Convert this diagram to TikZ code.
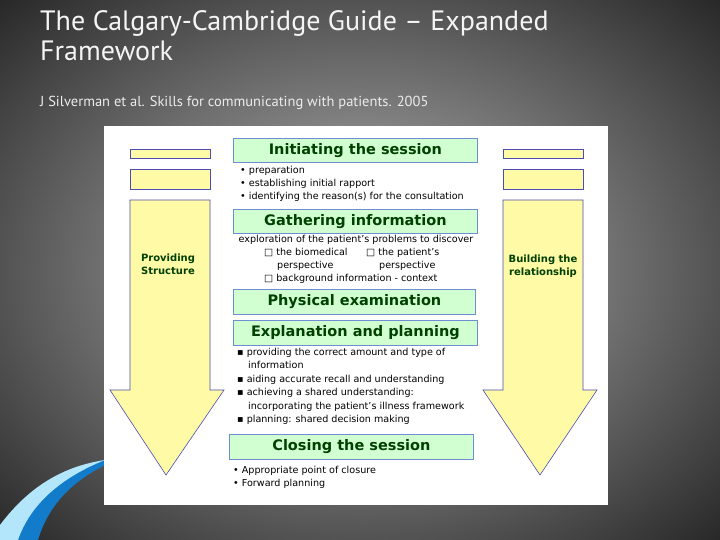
\documentclass[tikz,border=0pt]{standalone}
\usepackage{fontspec}
\setmainfont{DejaVu Sans}
\newfontfamily\titlefont{PT Sans}
\begin{document}
\begin{tikzpicture}[x=1pt,y=-1pt,
  ybox/.style={draw=gray!60!blue,fill=yellow!35,line width=0.6pt},
  gbox/.style={draw=cyan!40!blue!60,fill=green!18,line width=0.8pt,text=green!25!black,font=\bfseries\fontsize{14.5}{16}\selectfont},
  btxt/.style={anchor=north west,align=left,font=\fontsize{9.6}{13.2}\selectfont,inner sep=0pt},
  side/.style={font=\bfseries\fontsize{10}{13}\selectfont,align=center,text=green!25!black}]
\useasboundingbox (0,0) rectangle (720,540);
\fill[inner color=gray!55,outer color=black!90] (-200,-150) rectangle (920,690);
\fill[cyan!60!blue] (0,540) .. controls (40,480) and (80,462) .. (130,455) .. controls (80,472) and (50,500) .. (38,540) -- cycle;
\fill[cyan!30] (0,525) .. controls (30,485) and (65,466) .. (105,460) .. controls (60,478) and (30,505) .. (18,540) -- (0,540) -- cycle;
\node[anchor=north west,align=left,text=white!92!gray,font=\titlefont\fontsize{28}{30}\selectfont,inner sep=0pt] (title) at (40,10) {The Calgary-Cambridge Guide – Expanded\\Framework};
\node[anchor=north west,text=gray!15,font=\titlefont\fontsize{14.5}{16}\selectfont,inner sep=0pt] (sub) at (40,96) {J Silverman et al. Skills for communicating with patients. 2005};
\node[fill=white,minimum width=504,minimum height=379,anchor=north west,inner sep=0pt] (panel) at (104,126) {};
% left
\draw[ybox] (130,149) rectangle (210,158);
\draw[ybox] (130,169) rectangle (210,189);
\draw[ybox] (130,200) -- (210,200) -- (210,390) -- (224,390) -- (166,475) -- (110,390) -- (130,390) -- cycle;
\node[side] (ps) at (168,264) {Providing\\Structure};
% right
\draw[ybox] (503,149) rectangle (583,158);
\draw[ybox] (503,169) rectangle (583,189);
\draw[ybox] (503,200) -- (583,200) -- (583,390) -- (597,390) -- (540,475) -- (483,390) -- (503,390) -- cycle;
\node[side] (br) at (543,266) {Building the\\relationship};
% center
\node[gbox,minimum width=244,minimum height=24,anchor=north west,inner sep=0pt] (ini) at (233,138) {Initiating the session};
\node[btxt] (t1) at (240,166) {• preparation\\• establishing initial rapport\\• identifying the reason(s) for the consultation};
\node[gbox,minimum width=244,minimum height=24,anchor=north west,inner sep=0pt] (gat) at (233,209) {Gathering information};
\node[anchor=north,font=\fontsize{9.6}{13}\selectfont,inner sep=0pt] (t2) at (356,235) {exploration of the patient’s problems to discover};
\node[btxt] (t3) at (264,248) {□ the biomedical\\\hspace*{13pt}perspective};
\node[btxt] (t4) at (366,248) {□ the patient’s\\\hspace*{13pt}perspective};
\node[btxt] (t5) at (264,274) {□ background information - context};
\node[gbox,minimum width=242,minimum height=25,anchor=north west,inner sep=0pt] (phy) at (233,289) {Physical examination};
\node[gbox,minimum width=244,minimum height=25,anchor=north west,inner sep=0pt] (exp) at (233,320) {Explanation and planning};
\node[btxt,font=\fontsize{9.6}{13.4}\selectfont] (t6) at (237,348) {▪ providing the correct amount and type of\\\hspace*{11pt}information\\▪ aiding accurate recall and understanding\\▪ achieving a shared understanding:\\\hspace*{11pt}incorporating the patient’s illness framework\\▪ planning: shared decision making};
\node[gbox,minimum width=244,minimum height=25,anchor=north west,inner sep=0pt] (clo) at (229,434) {Closing the session};
\node[btxt] (t7) at (233,466) {• Appropriate point of closure\\• Forward planning};
\end{tikzpicture}
\end{document}
